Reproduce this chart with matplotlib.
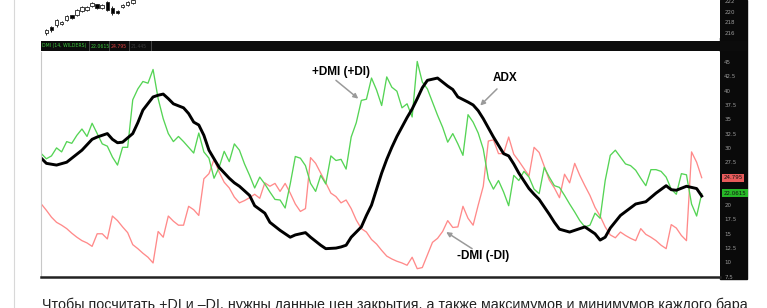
import numpy as np
import matplotlib
matplotlib.use("Agg")
import matplotlib.pyplot as plt
from matplotlib.patches import Rectangle

W, H = 767, 308

# ---- DMI data (one value per bar) ----
plus_di = [29.0, 28.1, 28.6, 30.0, 29.3, 31.1, 30.8, 32.2, 33.3, 32.0,
           34.3, 32.5, 30.7, 30.3, 28.4, 27.0, 30.1, 30.1, 38.4, 40.3,
           41.6, 41.3, 43.7, 38.6, 35.1, 32.5, 31.1, 32.0, 31.1, 30.1,
           29.1, 32.6, 29.3, 28.2, 24.7, 26.6, 29.4, 27.6, 30.7, 29.6,
           27.2, 25.2, 23.0, 24.9, 23.7, 22.3, 21.0, 20.9, 19.5, 23.7,
           28.5, 28.2, 26.9, 23.8, 22.4, 25.2, 23.7, 28.6, 27.8, 28.0,
           26.3, 31.9, 34.4, 38.3, 38.5, 42.2, 40.1, 37.4, 42.4, 40.6,
           39.9, 37.0, 37.7, 35.4, 45.1, 41.5, 40.3, 38.0, 35.7, 33.6,
           31.0, 32.5, 30.7, 28.7, 35.8, 34.5, 32.6, 29.8, 24.6, 22.8,
           24.3, 22.3, 19.9, 25.2, 24.3, 25.9, 24.9, 22.8, 22.0, 26.6,
           24.9, 23.4, 23.1, 21.7, 20.2, 18.8, 17.3, 16.2, 16.5, 18.6,
           17.7, 24.3, 28.7, 29.6, 28.4, 27.2, 26.9, 26.1, 24.7, 23.4,
           26.2, 26.2, 25.9, 24.9, 22.8, 21.9, 25.5, 25.3, 20.2, 18.1,
           22.0]

minus_di = [20.2, 19.1, 17.9, 17.0, 16.5, 15.9, 15.1, 14.4, 13.8, 13.4,
            12.8, 15.0, 15.0, 14.1, 18.1, 17.3, 16.2, 15.2, 13.1, 12.4,
            11.6, 10.9, 9.9, 15.4, 14.4, 18.1, 17.2, 16.5, 16.5, 19.8,
            19.2, 18.2, 24.6, 25.5, 28.0, 25.8, 24.0, 23.0, 21.4, 20.4,
            20.8, 21.3, 21.9, 21.2, 23.9, 23.3, 23.8, 22.4, 23.8, 22.1,
            20.2, 18.9, 19.4, 28.3, 27.3, 25.6, 23.9, 22.1, 21.5, 20.4,
            20.9, 19.4, 17.4, 15.9, 15.3, 14.0, 13.2, 12.1, 11.1, 10.6,
            10.2, 9.9, 9.5, 10.9, 8.9, 9.1, 11.3, 13.5, 14.2, 15.4,
            17.3, 16.1, 16.2, 19.8, 17.7, 16.5, 20.0, 23.3, 31.2, 31.4,
            29.0, 29.0, 31.9, 28.9, 27.7, 26.4, 25.1, 30.1, 29.2, 26.8,
            24.4, 23.0, 21.3, 25.4, 23.9, 27.3, 25.2, 23.4, 21.7, 19.6,
            18.1, 16.2, 14.8, 14.3, 15.3, 14.7, 14.2, 13.8, 15.9, 14.9,
            14.4, 13.8, 13.0, 12.4, 16.6, 16.0, 14.7, 13.8, 29.3, 27.5,
            24.8]

# ADX is smooth, read at its bends
adx_bar = [0, 1, 3, 5, 6, 8, 10, 11, 13, 14, 15, 16, 18, 19, 20, 22, 23, 24,
           25, 26, 28, 29, 30, 31, 32, 33, 35, 37, 38, 39, 41, 42, 44, 45, 47,
           49, 50, 52, 53, 55, 56, 58, 59, 60, 61, 63, 64, 65, 66, 67, 68, 69,
           70, 72, 73, 74, 75, 76, 78, 79, 80, 81, 82, 84, 85, 86, 87, 88, 89,
           91, 92, 93, 94, 96, 97, 98, 100, 101, 102, 104, 106, 107, 109, 110,
           111, 112, 114, 117, 119, 121, 123, 124, 125, 127, 129, 130]
adx_val = [28.2, 27.3, 27.0, 27.5, 28.2, 29.6, 31.5, 31.9, 32.5, 31.5, 30.9,
           31.0, 32.5, 34.4, 36.6, 38.9, 39.2, 39.4, 38.6, 37.7, 37.0, 36.0,
           34.5, 34.0, 32.2, 29.6, 26.6, 24.7, 23.9, 23.3, 21.7, 19.9, 18.6,
           17.0, 15.6, 14.4, 14.8, 15.2, 14.4, 13.0, 12.4, 12.5, 12.7, 13.0,
           14.4, 16.2, 18.2, 20.0, 22.8, 25.6, 28.0, 30.1, 32.0, 35.3, 36.8,
           38.6, 40.5, 41.8, 42.2, 41.5, 40.8, 40.2, 38.9, 38.0, 37.5, 36.5,
           35.1, 33.5, 31.9, 29.0, 28.6, 27.2, 25.6, 22.9, 21.9, 21.0, 18.4,
           17.0, 15.8, 15.3, 15.9, 16.2, 15.0, 13.9, 14.4, 16.0, 18.2, 20.2,
           20.6, 22.1, 23.4, 22.7, 22.6, 23.3, 22.9, 21.6]

y_ticks = [7.5, 10, 12.5, 15, 17.5, 20, 27.5, 30, 32.5, 35, 37.5, 40, 42.5, 45]
y_tick_labels = ["7.5", "10", "12.5", "15", "17.5", "20", "27.5", "30", "32.5",
                 "35", "37.5", "40", "42.5", "45"]
last_plus, last_minus, last_adx = "22.0615", "24.795", "21.445"

# ---- price candles in the cropped top strip ----
c_bar   = list(range(1, 19))
c_open  = [216.0, 217.1, 217.5, 217.7, 218.4, 219.4, 219.4, 220.1, 220.3, 221.1, 221.4, 220.7, 221.8, 220.7, 220.1, 220.9, 221.3, 221.6]
c_close = [216.6, 216.6, 218.4, 218.1, 219.2, 218.8, 220.3, 220.9, 220.9, 221.6, 220.7, 221.3, 220.3, 219.8, 219.8, 221.3, 221.8, 222.2]
c_high  = [216.8, 217.3, 218.6, 218.3, 219.4, 219.4, 220.5, 221.1, 221.1, 221.8, 221.4, 221.4, 222.0, 221.1, 220.3, 221.4, 222.0, 222.2]
c_low   = [215.6, 216.2, 217.1, 217.5, 218.3, 218.6, 219.2, 219.9, 220.1, 220.9, 220.5, 220.5, 220.1, 219.4, 219.6, 220.7, 221.1, 221.4]
price_ticks = [216, 218, 220, 222]

txt_ru = ("Чтобы посчитать +DI и –DI, нужны данные цен закрытия, "
          "а также максимумов и минимумов каждого бара")

GREEN = "#55d455"
RED = "#ff8a8a"


def box(x0, y0, x1, y1):
    # pixel box (top-left origin) -> figure fraction rect
    return [x0 / W, 1 - y1 / H, (x1 - x0) / W, (y1 - y0) / H]


fig = plt.figure(figsize=(W / 100, H / 100), dpi=100)
fig.patch.set_facecolor("white")

# page rule on the left
fig.add_artist(plt.Line2D([14 / W, 14 / W], [0, 1], color="#d8d8d8", lw=0.8))

# right-hand dark scale strip
fig.add_artist(Rectangle((720 / W, (H - 279) / H), 27 / W, 279 / H,
                         transform=fig.transFigure, color="#0a0a0a", zorder=-1))

# price strip
axp = fig.add_axes(box(41, 0, 720, 38))
for b, o, c, hi, lo in zip(c_bar, c_open, c_close, c_high, c_low):
    axp.vlines(b, lo, hi, color="#222222", lw=0.7)
    axp.add_patch(Rectangle((b - 0.35, min(o, c)), 0.7, abs(c - o),
                            facecolor="white" if c >= o else "black",
                            edgecolor="#222222", lw=0.6, zorder=3))
axp.set_xlim(-0.06, 133.6)
axp.set_ylim(215.06, 222.19)
axp.yaxis.tick_right()
axp.set_yticks(price_ticks)
axp.set_yticklabels([str(t) for t in price_ticks])
axp.tick_params(axis="y", length=0, pad=3, labelsize=4, labelcolor="#9a9a9a")
axp.set_xticks([])
for s in axp.spines.values():
    s.set_visible(False)

# indicator header bar
axh = fig.add_axes(box(41, 41, 747, 51))
axh.set_facecolor("#0c0c0c")
axh.set_xlim(41, 747)
axh.set_ylim(0, 1)
axh.set_xticks([])
axh.set_yticks([])
for s in axh.spines.values():
    s.set_visible(False)
hdr = [("DMI (14, WILDERS)", 42, "#3cc83c", 89),
       (last_plus, 90.5, "#3cc83c", 109),
       (last_minus, 111, "#e04040", 129),
       (last_adx, 131, "#3a3a3a", 151)]
for lab, x0, col, xdiv in hdr:
    axh.text(x0, 0.5, lab, color=col, fontsize=3.3, va="center", ha="left")
    axh.axvline(xdiv, color="#505050", lw=0.6)

# main DMI panel
ax = fig.add_axes(box(41, 52, 720, 277))
bars = np.arange(len(plus_di))
ax.plot(bars, minus_di, color=RED, lw=0.95)
ax.plot(bars, plus_di, color=GREEN, lw=0.95)
ax.plot(adx_bar, adx_val, color="black", lw=2.1, solid_joinstyle="round")
ax.set_xlim(-0.06, 133.6)
ax.set_ylim(7.45, 46.75)
ax.yaxis.tick_right()
ax.set_yticks(y_ticks)
ax.set_yticklabels(y_tick_labels)
ax.tick_params(axis="y", length=0, pad=3, labelsize=4, labelcolor="#9a9a9a")
ax.set_xticks([])
for s in ["top", "right"]:
    ax.spines[s].set_visible(False)
ax.spines["left"].set_color("#c8c8c8")
ax.spines["left"].set_linewidth(0.8)
ax.spines["bottom"].set_color("#222222")
ax.spines["bottom"].set_linewidth(1.8)

# last-value badges on the scale
for val, lab, col in [(24.795, last_minus, "#e85a5a"), (22.0615, last_plus, "#27b827")]:
    ax.annotate(lab, xy=(1.0, val), xycoords=("axes fraction", "data"),
                xytext=(2.5, 0), textcoords="offset points", va="center", ha="left",
                fontsize=4, color="#111111",
                bbox=dict(boxstyle="square,pad=0.25", fc=col, ec="none"),
                annotation_clip=False)

# callouts: label text and a grey arrow pointing at each line
arrow = dict(arrowstyle="-|>", color="#9a9a9a", lw=1.1, mutation_scale=7,
             shrinkA=0, shrinkB=0)
lab_font = dict(fontsize=8.5, fontweight="bold", ha="center", va="center",
                family=["Liberation Sans", "DejaVu Sans"])
ax.text(58.9, 43.3, "+DMI (+DI)", **lab_font)
ax.annotate("", xy=(62.4, 38.6), xytext=(58.0, 41.8), arrowprops=arrow)
ax.text(91.2, 42.2, "ADX", **lab_font)
ax.annotate("", xy=(86.4, 37.4), xytext=(89.7, 40.3), arrowprops=arrow)
ax.text(86.9, 11.1, "-DMI (-DI)", **lab_font)
ax.annotate("", xy=(79.7, 15.3), xytext=(84.8, 12.4), arrowprops=arrow)

# article text below; the screenshot cuts it at the bottom edge
t = fig.text(42 / W, 1 - 309 / H, txt_ru, fontsize=9, va="baseline", ha="left",
             color="#222222", family=["Liberation Sans Narrow", "Liberation Sans", "DejaVu Sans"])
fig.canvas.draw()
bb = t.get_window_extent()
t.set_fontsize(9 * (746 - 42) / bb.width)

fig.savefig("out.png", dpi=100, facecolor="white")
